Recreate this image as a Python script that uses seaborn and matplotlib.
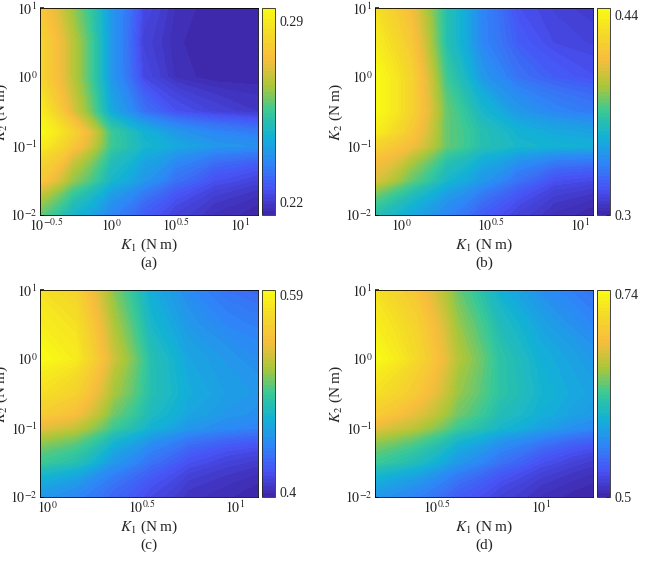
import numpy as np
import matplotlib
matplotlib.use("Agg")
import matplotlib.pyplot as plt
from matplotlib.colors import LinearSegmentedColormap
import seaborn as sns

sns.set_theme(style="white")
plt.rcParams['font.family'] = ['Liberation Serif', 'DejaVu Serif']
plt.rcParams['mathtext.fontset'] = 'stix'

parula = LinearSegmentedColormap.from_list("parula", [
    (0.0, (0.2422, 0.1504, 0.6603)), (0.125, (0.2810, 0.3228, 0.9579)),
    (0.25, (0.1786, 0.5289, 0.9682)), (0.375, (0.0689, 0.6948, 0.8394)),
    (0.5, (0.2161, 0.7843, 0.5923)), (0.625, (0.6720, 0.7793, 0.2227)),
    (0.75, (0.9700, 0.7400, 0.2400)), (0.875, (0.9600, 0.8500, 0.1600)),
    (1.0, (0.9769, 0.9839, 0.0805))])

# log10(K2) rows shared by all panels
v_rows = [-2, -1.5, -1, -0.8, -0.5, 0, 0.5, 1]

# panel (a)
u_a = [-0.55, -0.3, 0, 0.25, 0.5, 0.8, 1.14]
f_a = [[0.55, 0.4, 0.25, 0.15, 0.08, 0.03, 0],
       [0.8, 0.6, 0.4, 0.3, 0.2, 0.12, 0.08],
       [0.95, 0.8, 0.5, 0.4, 0.35, 0.3, 0.28],
       [1.0, 0.85, 0.5, 0.38, 0.3, 0.25, 0.22],
       [0.95, 0.7, 0.35, 0.2, 0.12, 0.08, 0.05],
       [0.85, 0.65, 0.3, 0.1, 0.03, 0, 0],
       [0.85, 0.65, 0.3, 0.08, 0.02, 0, 0],
       [0.8, 0.6, 0.3, 0.1, 0.03, 0, 0]]
# panel (b)
u_b = [-0.15, 0.05, 0.25, 0.45, 0.65, 0.85, 1.07]
f_b = [[0.45, 0.35, 0.25, 0.15, 0.08, 0.03, 0],
       [0.7, 0.55, 0.4, 0.3, 0.2, 0.12, 0.1],
       [0.85, 0.75, 0.55, 0.45, 0.4, 0.38, 0.37],
       [0.95, 0.8, 0.55, 0.45, 0.38, 0.35, 0.33],
       [1.0, 0.85, 0.55, 0.4, 0.3, 0.25, 0.22],
       [1.0, 0.85, 0.5, 0.3, 0.2, 0.15, 0.12],
       [0.95, 0.8, 0.45, 0.25, 0.15, 0.1, 0.08],
       [0.9, 0.75, 0.45, 0.25, 0.12, 0.08, 0.05]]
# panel (c)
u_c = [-0.04, 0.15, 0.35, 0.55, 0.75, 0.95, 1.12]
f_c = [[0.3, 0.25, 0.17, 0.1, 0.04, 0.02, 0],
       [0.5, 0.45, 0.3, 0.2, 0.12, 0.08, 0.06],
       [0.72, 0.66, 0.5, 0.38, 0.3, 0.26, 0.24],
       [0.82, 0.76, 0.56, 0.42, 0.34, 0.3, 0.28],
       [0.9, 0.84, 0.62, 0.45, 0.36, 0.32, 0.3],
       [1.0, 0.94, 0.68, 0.45, 0.34, 0.3, 0.27],
       [0.95, 0.9, 0.63, 0.4, 0.3, 0.25, 0.23],
       [0.9, 0.84, 0.58, 0.36, 0.26, 0.2, 0.17]]
# panel (d)
u_d = [0.2, 0.4, 0.6, 0.8, 1.0, 1.15, 1.25]
f_d = [[0.3, 0.24, 0.15, 0.08, 0.03, 0.01, 0],
       [0.5, 0.43, 0.3, 0.2, 0.12, 0.08, 0.06],
       [0.72, 0.64, 0.5, 0.4, 0.33, 0.28, 0.26],
       [0.82, 0.72, 0.56, 0.44, 0.37, 0.33, 0.31],
       [0.9, 0.8, 0.6, 0.47, 0.39, 0.35, 0.33],
       [1.0, 0.87, 0.64, 0.47, 0.37, 0.33, 0.3],
       [0.95, 0.84, 0.6, 0.43, 0.33, 0.28, 0.25],
       [0.9, 0.78, 0.55, 0.37, 0.27, 0.23, 0.2]]

vranges = [(0.215, 0.295), (0.30, 0.445), (0.395, 0.595), (0.50, 0.745)]
cticks = [[0.22, 0.29], [0.3, 0.44], [0.4, 0.59], [0.5, 0.74]]
xtick_exps = [[-0.5, 0, 0.5, 1], [0, 0.5, 1], [0, 0.5, 1], [0.5, 1]]
labels = ["(a)", "(b)", "(c)", "(d)"]
panels = [(u_a, f_a), (u_b, f_b), (u_c, f_c), (u_d, f_d)]

W, H = 668, 567
fig = plt.figure(figsize=(W / 100, H / 100), dpi=100)
ax_pos = [(40, 8), (375, 8), (40, 290), (375, 290)]
aw, ah = 218, 207

def fmt(e):
    return r"$10^{%s}$" % ("%g" % e)

for i, ((u, f), (px, py)) in enumerate(zip(panels, ax_pos)):
    ax = fig.add_axes([px / W, 1 - (py + ah) / H, aw / W, ah / H])
    lo, hi = vranges[i]
    Z = lo + np.array(f) * (hi - lo)
    X, Y = np.meshgrid(10.0 ** np.array(u), 10.0 ** np.array(v_rows))
    cs = ax.contourf(X, Y, Z, levels=np.linspace(lo, hi, 60), cmap=parula)
    ax.set_xscale("log"); ax.set_yscale("log")
    ax.set_xlim(10 ** u[0], 10 ** u[-1]); ax.set_ylim(1e-2, 1e1)
    ax.set_xticks([10.0 ** e for e in xtick_exps[i]])
    ax.set_xticklabels([fmt(e) for e in xtick_exps[i]], fontsize=10)
    ax.set_xticks([], minor=True)
    ax.set_yticks([1e-2, 1e-1, 1e0, 1e1])
    ax.set_yticklabels([fmt(e) for e in [-2, -1, 0, 1]], fontsize=10)
    ax.set_yticks([], minor=True)
    ax.tick_params(direction="in", length=3, left=True, bottom=True, pad=2)
    for s in ax.spines.values():
        s.set_color("black"); s.set_linewidth(0.6)
    ax.set_xlabel(r"$K_1$ (N m)", fontsize=11, labelpad=2)
    ax.set_ylabel(r"$K_2$ (N m)", fontsize=11, labelpad=0)
    ax.text(0.5, -0.2, labels[i], transform=ax.transAxes, ha="center",
            va="top", fontsize=11)
    cax = fig.add_axes([(px + aw + 4) / W, 1 - (py + ah) / H, 13 / W, ah / H])
    cb = fig.colorbar(cs, cax=cax)
    cb.set_ticks(cticks[i])
    cb.set_ticklabels([str(t) for t in cticks[i]])
    cb.ax.tick_params(labelsize=10, direction="in", length=3)
    cb.outline.set_linewidth(0.6)

fig.savefig("out.png", dpi=100)
